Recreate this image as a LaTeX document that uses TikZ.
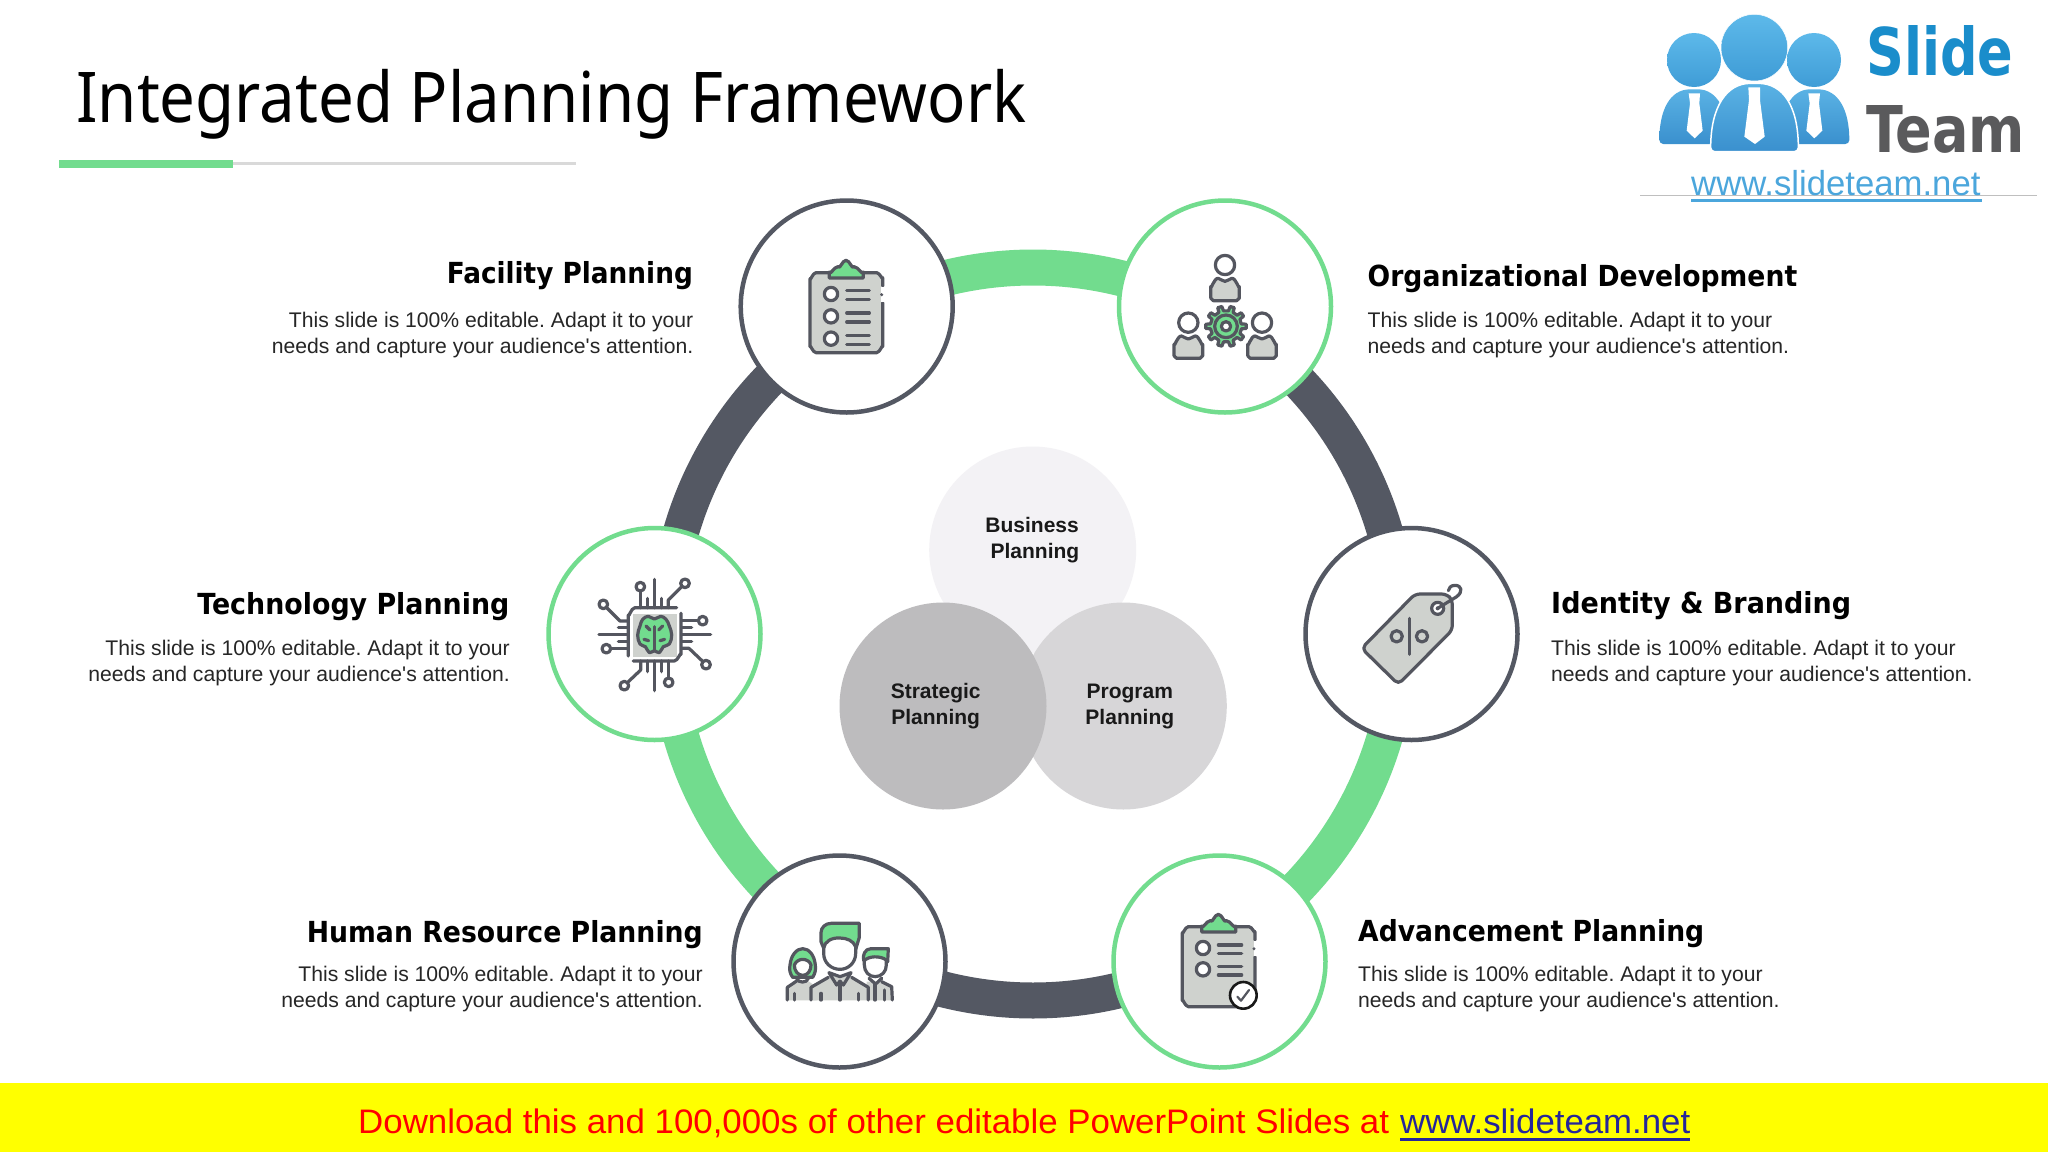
\documentclass[tikz,border=0pt]{standalone}
\usepackage{graphicx}
\usepackage{fontspec}
\setmainfont{Liberation Sans}
\newfontfamily\hdfont{Noto Sans}
\newfontfamily\hdbold{DejaVu Sans}
\newfontfamily\bodyfont{Liberation Sans}
\definecolor{ringgreen}{HTML}{72DC8E}
\definecolor{ringdark}{HTML}{545863}
\definecolor{icondark}{HTML}{54565F}
\definecolor{icongray}{HTML}{CFD2CE}
\definecolor{logoblue}{HTML}{4BA6DC}
\definecolor{logotext}{HTML}{1A8DCB}
\definecolor{logogray}{HTML}{5A5A5C}
\definecolor{linkblue}{HTML}{26269A}
\definecolor{lfa}{HTML}{5DB9EA}
\definecolor{lfb}{HTML}{3F9CD6}
\definecolor{lba}{HTML}{5AB2E4}
\definecolor{lbb}{HTML}{3A90CE}
\definecolor{vennA}{HTML}{F3F2F5}
\definecolor{vennB}{HTML}{D7D6D8}
\definecolor{vennC}{HTML}{BDBCBE}
\definecolor{banneryellow}{RGB}{255,255,0}
\definecolor{bannerred}{RGB}{255,0,0}
\newcommand\fitw[2]{\resizebox{#1}{\height}{#2}}
\newcommand\fiths[3]{\resizebox{#1}{#2}{#3}}
\newcommand\bodytext{This slide is 100\% editable. Adapt it to your\\needs and capture your audience's attention.}
\tikzset{
  x=1pt,y=-1pt,
  hub/.style={circle,draw,fill=white,line width=4.5pt,minimum size=212pt,inner sep=0},
  hubgreen/.style={hub,draw=ringgreen},
  hubdark/.style={hub,draw=ringdark},
  band/.style={line width=36pt},
  head/.style={inner sep=0,font=\hdbold\bfseries\fontsize{29}{32}\selectfont,text=black},
  desc/.style={inner sep=0,font=\bodyfont\frenchspacing\fontsize{21.15}{26}\selectfont,text=black!85},
  venn/.style={circle,minimum size=207pt,inner sep=0},
  vennlabel/.style={inner sep=0,font=\bodyfont\bfseries\fontsize{21}{26}\selectfont,text=black!90},
  ic/.style={draw=icondark,line width=3.2pt,line cap=round,line join=round},
  icg/.style={ic,fill=icongray},
  icgr/.style={ic,fill=ringgreen},
  icw/.style={ic,fill=white},
  zoomed/.style={scale=0.33333},
  logoface/.style={top color=lfa,bottom color=lfb},
  logobody/.style={top color=lba,bottom color=lbb},
}
\newcommand\clipicon{%
  \draw[icg] (450,270) -- (450,245) to[out=-90,in=0] (432,230) -- (250,230) to[out=180,in=-90] (232,248) -- (232,452) to[out=90,in=180] (250,470) -- (432,470) to[out=0,in=90] (450,452) -- (450,320);
  \fill[white] (446,272) rectangle (456,318);
  \fill[icondark] (447,296) circle (5);
  \draw[icgr] (290,246) -- (290,228) to[out=-80,in=180] (316,212) to[out=-60,in=180] (340,193) to[out=0,in=-120] (364,212) to[out=0,in=-100] (392,228) -- (392,246) -- cycle;
}
\newcommand\personicon{%
  \draw[icw] (345,225) circle (29);
  \draw[icg] (302,325) -- (302,290) to[out=-90,in=170] (325,265) to[out=-10,in=180] (345,274) to[out=0,in=-170] (365,265) to[out=10,in=-90] (388,290) -- (388,325) to[out=90,in=0] (380,332) -- (310,332) to[out=180,in=90] cycle;
}
\begin{document}
\begin{tikzpicture}
\useasboundingbox (0,0) rectangle (2048,1152);
\fill[white] (0,0) rectangle (2048,1152);

% title
\node[inner sep=0,anchor=base west,font=\hdfont\fontsize{70}{76}\selectfont] (title) at (76,122) {\fitw{950pt}{Integrated Planning Framework}};
\fill[black!15] (233,161.5) rectangle (576,164.5);
\fill[ringgreen] (59,159.5) rectangle (233,167.5);

% logo
\draw[black!25,line width=1pt] (1640,195.5) -- (2037,195.5);
\begin{scope}[shift={(1620,0)},zoomed]
  \path[logobody,rounded corners=4pt] (118,432) .. controls (118,330) and (150,268) .. (222,268) .. controls (290,268) and (325,330) .. (325,432) -- cycle;
  \path[logobody,rounded corners=4pt] (480,432) .. controls (480,330) and (515,268) .. (582,268) .. controls (655,268) and (688,330) .. (688,432) -- cycle;
  \path[logobody,draw=white,line width=1.5pt,rounded corners=4pt] (272,455) .. controls (272,320) and (320,250) .. (403,250) .. controls (490,250) and (535,320) .. (535,455) -- cycle;
  \path[logoface] (222,180) circle (81);
  \path[logoface] (582,180) circle (81);
  \path[logoface,draw=white,line width=.5pt] (403,143) circle (100);
  \fill[white] (385,262) -- (420,262) -- (420,300) -- (434,410) -- (405,432) -- (373,410) -- (387,300) -- cycle;
  \fill[white] (206,280) -- (240,280) -- (238,310) -- (248,392) -- (224,415) -- (200,392) -- (210,310) -- cycle;
  \fill[white] (565,280) -- (600,280) -- (597,310) -- (607,392) -- (583,415) -- (559,392) -- (569,310) -- cycle;
\end{scope}
\node[inner sep=0,anchor=base west,text=logotext,font=\hdbold\bfseries\fontsize{68}{70}\selectfont] (logoslide) at (1866,75) {\fiths{147pt}{50pt}{Slide}};
\node[inner sep=0,anchor=base west,text=logogray,font=\hdbold\bfseries\fontsize{68}{70}\selectfont] (logoteam) at (1866,152) {\fiths{159pt}{47pt}{Team}};
\node[inner sep=0,anchor=base west,text=logoblue,font=\bodyfont\fontsize{34.7}{36}\selectfont] (logourl) at (1691,195) {www.slideteam.net};
\fill[logoblue] (1691,198.5) rectangle (1982,201.5);

% ring
\begin{scope}[shift={(1033,634)},x=1pt,y=1pt]
  \draw[band,ringgreen] (120:366.5) arc[start angle=120,end angle=60,radius=366.5];
  \draw[band,ringdark]  (60:366.5) arc[start angle=60,end angle=0,radius=366.5];
  \draw[band,ringgreen] (0:366.5) arc[start angle=0,end angle=-60,radius=366.5];
  \draw[band,ringdark]  (-60:366.5) arc[start angle=-60,end angle=-120,radius=366.5];
  \draw[band,ringgreen] (-120:366.5) arc[start angle=-120,end angle=-180,radius=366.5];
  \draw[band,ringdark]  (180:366.5) arc[start angle=180,end angle=120,radius=366.5];
\end{scope}

% hubs
\node[hubdark]  (facility) at (846.7,306.5) {};
\node[hubgreen] (org)      at (1225,306.5) {};
\node[hubgreen] (tech)     at (654.5,634) {};
\node[hubdark]  (identity) at (1411.5,634) {};
\node[hubdark]  (hr)       at (839.5,961.5) {};
\node[hubgreen] (adv)      at (1219.5,961.5) {};

% venn
\node[venn,fill=vennA] (business) at (1032.7,550) {};
\node[venn,fill=vennB] (program)  at (1123.3,706) {};
\node[venn,fill=vennC] (strategic) at (943,706) {};
\node[vennlabel,align=right,anchor=base east] (businesslabel) at (1079,532.5) {Business};
\node[vennlabel,align=right,anchor=base east] (businesslabel2) at (1079.5,558) {Planning};
\node[vennlabel,anchor=base] (strategiclabel) at (935.7,698.5) {Strategic};
\node[vennlabel,anchor=base] (strategiclabel2) at (935.7,724.5) {Planning};
\node[vennlabel,anchor=base] (programlabel) at (1129.8,698.5) {Program};
\node[vennlabel,anchor=base] (programlabel2) at (1129.8,724.5) {Planning};

% labels
\node[head,anchor=base east] (h1) at (693,283) {\fitw{246pt}{Facility Planning}};
\node[desc,anchor=north east,align=right] (d1) at (693.5,311.8) {\bodytext};
\node[head,anchor=base west] (h2) at (1367.5,286) {\fitw{429.5pt}{Organizational Development}};
\node[desc,anchor=north west,align=left] (d2) at (1367.5,311.8) {\bodytext};
\node[head,anchor=base east] (h3) at (509.5,614.5) {\fitw{312pt}{Technology Planning}};
\node[desc,anchor=north east,align=right] (d3) at (510,639.8) {\bodytext};
\node[head,anchor=base west] (h4) at (1551,613.5) {\fitw{300pt}{Identity \& Branding}};
\node[desc,anchor=north west,align=left] (d4) at (1551,639.8) {\bodytext};
\node[head,anchor=base east] (h5) at (703,942.5) {\fitw{396pt}{Human Resource Planning}};
\node[desc,anchor=north east,align=right] (d5) at (703,965.8) {\bodytext};
\node[head,anchor=base west] (h6) at (1358,941) {\fitw{346pt}{Advancement Planning}};
\node[desc,anchor=north west,align=left] (d6) at (1358,965.8) {\bodytext};

% banner
\fill[banneryellow] (0,1083) rectangle (2048,1152);
\node[inner sep=0,anchor=base west,text=bannerred,font=\bodyfont\fontsize{34}{36}\selectfont] (banner) at (358,1133) {\fitw{1031pt}{Download this and 100,000s of other editable PowerPoint Slides at}};
\node[inner sep=0,anchor=base west,text=linkblue,font=\bodyfont\fontsize{34}{36}\selectfont] (bannerurl) at (1400,1133) {\fitw{290pt}{www.slideteam.net}};
\fill[linkblue] (1400,1137.5) rectangle (1690,1140.5);

% icon: facility clipboard
\begin{scope}[shift={(730,190)},zoomed]
  \begin{scope}[shift={(8,18)}]
    \clipicon
    \foreach \cy in {294,361,428}{
      \draw[icw] (295,\cy) circle (20);
      \draw[ic] (342,\cy-10) -- (410,\cy-10);
      \draw[ic] (342,\cy+17) -- (410,\cy+17);
    }
  \end{scope}
\end{scope}

% icon: advancement clipboard
\begin{scope}[shift={(1105,850)},zoomed]
  \clipicon
  \foreach \cy in {294,358}{
    \draw[icw] (294,\cy) circle (20);
    \draw[ic] (340,\cy-9) -- (410,\cy-9);
    \draw[ic] (340,\cy+17) -- (410,\cy+17);
  }
  \draw[fill=white,draw=black!90,line width=2.6pt] (415,436) circle (40);
  \draw[draw=icondark,line width=2.2pt,line cap=round,line join=round] (397,440) -- (408,452) -- (432,420);
\end{scope}

% icon: organisation
\begin{scope}[shift={(1110,190)},zoomed]
  \personicon
  \begin{scope}[shift={(-110,173)}]\personicon\end{scope}
  \begin{scope}[shift={(111,173)}]\personicon\end{scope}
  \begin{scope}[shift={(348,409)}]
    \draw[icgr] (-9:46) \foreach \a in {0,36,...,324}{ -- ({\a-9}:47) -- ({\a-6}:61) -- ({\a+6}:61) -- ({\a+9}:47)} -- cycle;
    \draw[ic] (0,0) circle (34);
    \draw[icw] (0,0) circle (14);
  \end{scope}
\end{scope}

% icon: brain chip
\begin{scope}[shift={(540,520)},zoomed]
  \fill[icongray] (280,282) rectangle (410,410);
  \draw[ic] (265,408) -- (265,285) to[out=-90,in=180] (285,263) -- (410,263);
  \draw[ic] (423,280) -- (423,403) to[out=90,in=0] (403,423) -- (280,423);
  % pins
  \draw[ic] (343,178) -- (343,263);
  \draw[ic] (323,235) -- (323,263);
  \draw[ic] (365,235) -- (365,263);
  \draw[ic] (301,214) -- (301,263);
  \draw[ic] (425,200) -- (385,240) -- (385,263);
  \draw[ic] (177,343) -- (263,343);
  \draw[ic] (235,322) -- (263,322);
  \draw[ic] (235,365) -- (263,365);
  \draw[ic] (200,263) -- (240,303) -- (263,303);
  \draw[ic] (213,386) -- (263,386);
  \draw[ic] (425,343) -- (512,343);
  \draw[ic] (425,322) -- (455,322);
  \draw[ic] (425,365) -- (455,365);
  \draw[ic] (474,302) -- (425,302);
  \draw[ic] (488,424) -- (447,385) -- (425,385);
  \draw[ic] (343,423) -- (343,512);
  \draw[ic] (323,423) -- (323,455);
  \draw[ic] (365,423) -- (365,455);
  \draw[ic] (263,487) -- (302,450) -- (302,423);
  \draw[ic] (386,473) -- (386,423);
  \foreach \px/\py in {301/200,435/190,190/253,199/386,488/302,498/434,253/497,386/487}
    \draw[icw] (\px,\py) circle (13);
  % brain
  \draw[icgr] plot[smooth cycle,tension=.7] coordinates {(343,297)(325,289)(308,298)(300,318)(293,345)(300,372)(316,380)(328,398)(343,392)(358,398)(370,380)(388,372)(395,345)(388,318)(378,298)(362,289)};
  \draw[ic] (343,320) -- (343,392);
  \draw[ic] (318,318) -- (330,330);
  \draw[ic] (368,318) -- (356,330);
  \draw[ic] (312,358) -- (326,362);
  \draw[ic] (374,358) -- (360,362);
\end{scope}

% icon: tag
\begin{scope}[shift={(1300,520)},zoomed]
  \draw[icg,rounded corners=5pt] (185,385) -- (345,222) -- (440,222) -- (457,240) -- (457,330) -- (295,493) -- cycle;
  \draw[icw] (413,265) circle (18);
  \fill[icondark] (413,265) circle (6);
  \draw[ic] (413,265) -- (470,230) .. controls (490,215) and (485,196) .. (465,196) .. controls (452,196) and (446,204) .. (445,212);
  \draw[ic] (290,349) circle (17);
  \draw[ic] (366,349) circle (17);
  \draw[ic] (328,295) -- (328,403);
\end{scope}

% icon: people
\begin{scope}[shift={(725,850)},zoomed]
  % woman
  \draw[icgr] (203,382) .. controls (195,370) and (192,360) .. (195,345) .. controls (198,315) and (215,296) .. (233,296) .. controls (252,296) and (268,315) .. (271,345) .. controls (273,360) and (270,370) .. (263,382) -- cycle;
  \draw[icw] (208,345) .. controls (212,335) and (222,328) .. (233,328) .. controls (245,328) and (255,335) .. (258,345) .. controls (258,362) and (248,376) .. (233,376) .. controls (218,376) and (208,362) .. (208,345) -- cycle;
  \path[icg,draw=none] (187,451) -- (187,412) -- (215,393) -- (250,393) -- (275,412) -- (275,451) -- cycle;
  \draw[ic] (187,450) -- (187,412) -- (215,393);
  \draw[ic] (215,385) .. controls (220,400) and (245,400) .. (250,385);
  \draw[ic] (208,430) -- (208,450);
  % right man
  \draw[icgr] (416,332) .. controls (412,315) and (420,296) .. (438,296) -- (490,296) -- (488,335) -- (478,330) -- (420,332) -- cycle;
  \draw[icw] (418,332) .. controls (430,318) and (465,316) .. (484,330) -- (484,345) .. controls (484,365) and (470,380) .. (450,380) .. controls (432,380) and (418,365) .. (418,345) -- cycle;
  \path[icg,draw=none] (425,451) -- (425,395) -- (470,395) -- (502,412) -- (502,451) -- cycle;
  \draw[ic] (470,395) -- (500,410) -- (502,450);
  \draw[ic] (432,385) -- (452,402) -- (470,385);
  \draw[ic] (450,402) -- (450,450);
  \draw[ic] (478,420) -- (478,450);
  % main man
  \path[icg,draw=none] (258,451) -- (258,412) -- (310,382) -- (380,382) -- (430,412) -- (430,451) -- cycle;
  \draw[ic] (258,450) -- (258,412) -- (310,382);
  \draw[ic] (380,382) -- (430,412) -- (430,450);
  \draw[icg] (312,368) -- (335,405) -- (345,394) -- (355,405) -- (378,368) -- (345,380) -- cycle;
  \draw[ic] (345,394) -- (345,450);
  \draw[ic] (288,430) -- (288,450);
  \draw[ic] (400,430) -- (400,450);
  \draw[icgr] (297,297) -- (288,275) -- (288,248) .. controls (288,232) and (302,220) .. (318,220) -- (403,220) -- (403,262) -- (392,298) -- cycle;
  \draw[icw] (296,295) .. controls (298,275) and (320,262) .. (345,264) .. controls (365,264) and (385,272) .. (392,290) -- (392,310) .. controls (392,338) and (370,358) .. (345,358) .. controls (318,358) and (296,338) .. (296,310) -- cycle;
\end{scope}
\end{tikzpicture}
\end{document}
